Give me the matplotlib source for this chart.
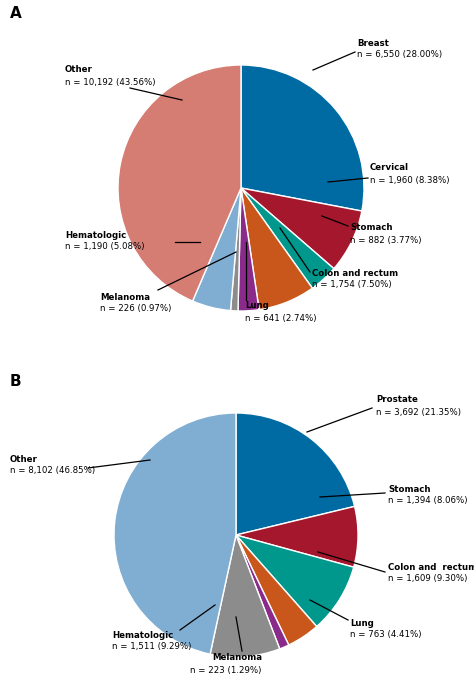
import matplotlib
matplotlib.use("Agg")
import matplotlib.pyplot as plt

cats_a = ["Breast", "Cervical", "Stomach", "Colon and rectum", "Lung", "Melanoma", "Hematologic", "Other"]
n_a = ["6,550", "1,960", "882", "1,754", "641", "226", "1,190", "10,192"]
pct_a = [28.00, 8.38, 3.77, 7.50, 2.74, 0.97, 5.08, 43.56]
col_a = ["#006aa3", "#a4172c", "#00978c", "#c9561b", "#8a2a8b", "#8c8c8c", "#80aed3", "#d57c73"]

cats_b = ["Prostate", "Stomach", "Colon and  rectum", "Lung", "Melanoma", "Hematologic", "Other"]
n_b = ["3,692", "1,394", "1,609", "763", "223", "1,511", "8,102"]
pct_b = [21.35, 8.06, 9.30, 4.41, 1.29, 9.29, 46.85]
col_b = ["#006aa3", "#a4172c", "#00978c", "#c9561b", "#8a2a8b", "#8c8c8c", "#80aed3"]

W, H = 474, 690
fig = plt.figure(figsize=(W/100, H/100), dpi=100)

def pie_axes(cx, cy, r):
    return fig.add_axes([(cx-r)/W, (H-cy-r)/H, 2*r/W, 2*r/H])

axA = pie_axes(241, 188, 123)
axA.pie(pct_a, colors=col_a, startangle=90, counterclock=False,
        wedgeprops=dict(edgecolor="white", linewidth=1))
axA.set_xlim(-1, 1); axA.set_ylim(-1, 1)
axB = pie_axes(236, 535, 122)
axB.pie(pct_b, colors=col_b, startangle=90, counterclock=False,
        wedgeprops=dict(edgecolor="white", linewidth=1))
axB.set_xlim(-1, 1); axB.set_ylim(-1, 1)

ov = fig.add_axes([0, 0, 1, 1])
ov.set_xlim(0, W); ov.set_ylim(H, 0); ov.axis("off")

fs = 6.2
def label(name, n, pct, x, y, ha, line):
    ov.text(x, y, name, ha=ha, va="center", fontsize=fs, fontweight="bold")
    ov.text(x, y+12, f"n = {n} ({pct:.2f}%)", ha=ha, va="center", fontsize=fs)
    ov.plot([line[0], line[2]], [line[1], line[3]], color="black", lw=0.9)

la = [
    (357, 43, "left", (355, 52, 313, 70)),
    (370, 168, "left", (368, 178, 328, 182)),
    (350, 228, "left", (348, 226, 322, 216)),
    (312, 273, "left", (310, 272, 280, 228)),
    (245, 306, "left", (246, 300, 246, 242)),
    (100, 297, "left", (158, 290, 236, 252)),
    (65, 235, "left", (175, 242, 200, 242)),
    (65, 70, "left", (130, 88, 182, 100)),
]
for c, n, p, (x, y, ha, ln) in zip(cats_a, n_a, pct_a, la):
    label(c, n, p, x, y, ha, ln)

lb = [
    (376, 400, "left", (372, 408, 307, 432)),
    (388, 489, "left", (385, 493, 320, 497)),
    (388, 567, "left", (385, 572, 318, 552)),
    (350, 623, "left", (348, 620, 310, 600)),
    (212, 658, "left", (242, 651, 236, 617)),
    (112, 635, "left", (180, 630, 215, 605)),
    (10, 459, "left", (88, 468, 150, 460)),
]
for c, n, p, (x, y, ha, ln) in zip(cats_b, n_b, pct_b, lb):
    if c == "Melanoma":
        ov.text(x, y, c, ha="left", va="center", fontsize=fs, fontweight="bold")
        ov.text(190, y+12, f"n = {n} ({p:.2f}%)", ha="left", va="center", fontsize=fs)
        ov.plot([ln[0], ln[2]], [ln[1], ln[3]], color="black", lw=0.9)
    else:
        label(c, n, p, x, y, ha, ln)

ov.text(10, 14, "A", fontsize=11, fontweight="bold", va="center")
ov.text(10, 382, "B", fontsize=11, fontweight="bold", va="center")

fig.savefig("out.png", dpi=100)
